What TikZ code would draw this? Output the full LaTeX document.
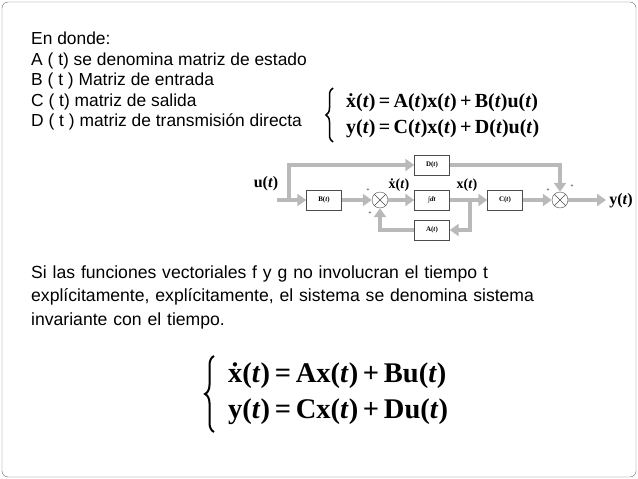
\documentclass[tikz,border=0pt]{standalone}
\usepackage{fontspec}
\setmainfont{Liberation Sans}
\newfontfamily\serifb{Liberation Serif}
\usetikzlibrary{arrows.meta,decorations.pathreplacing}
\newcommand\ti{\textit{t}}
\begin{document}
\begin{tikzpicture}[x=1pt,y=-1pt,
  blk/.style={draw=black!70,fill=white,minimum width=35pt,minimum height=20pt,inner sep=0pt,font=\serifb\bfseries\scriptsize},
  sumn/.style={circle,draw=black!70,fill=white,minimum size=16pt,inner sep=0pt},
  sigA/.style={line width=3.5pt,draw=gray!55,-{Triangle[length=9pt,width=12pt]},color=gray!55},
  txt/.style={anchor=west,font=\fontsize{17.4}{19}\selectfont,inner sep=0pt},
  eqs/.style={anchor=west,inner sep=0pt},
  brc/.style={decorate,decoration={brace,mirror,amplitude=7pt},line width=1.5pt}]
\useasboundingbox (0,0) rectangle (638,479);
\draw[black!60,rounded corners=6pt] (2,2) rectangle (636,477);
\node[txt] (t1) at (31,38) {En donde:};
\node[txt] (t2) at (31,61) {A ( t) se denomina matriz de estado};
\node[txt] (t3) at (31,81) {B ( t ) Matriz de entrada};
\node[txt] (t4) at (31,102) {C ( t) matriz de salida};
\node[txt] (t5) at (31,122) {D ( t ) matriz de transmisión directa};
\coordinate (b1t) at (333,88);
\coordinate (b1b) at (333,142);
\draw[brc] (b1t) -- (b1b);
\node[eqs,font=\serifb\bfseries\fontsize{20}{22}\selectfont] (e1a) at (346,103) {ẋ(\ti)\,=\,A(\ti)x(\ti)\,+\,B(\ti)u(\ti)};
\node[eqs,font=\serifb\bfseries\fontsize{20}{22}\selectfont] (e1b) at (346,129) {y(\ti)\,=\,C(\ti)x(\ti)\,+\,D(\ti)u(\ti)};
% diagram
\node[blk] (D) at (432,165) {D(\ti)};
\node[blk] (B) at (324,200) {B(\ti)};
\node[blk] (I) at (432,200) {∫\textit{dt}};
\node[blk] (C) at (505,200) {C(\ti)};
\node[blk] (A) at (432,230) {A(\ti)};
\node[sumn] (s1) at (380,200) {};
\node[sumn] (s2) at (560,200) {};
\draw[black!70] (s1.45)--(s1.225) (s1.135)--(s1.315);
\draw[black!70] (s2.45)--(s2.225) (s2.135)--(s2.315);
\node[inner sep=0pt,font=\serifb\bfseries\fontsize{16}{18}\selectfont] (u) at (266,184) {u(\ti)};
\node[inner sep=0pt,font=\serifb\bfseries\fontsize{16}{18}\selectfont] (y) at (621,201) {y(\ti)};
\node[inner sep=0pt,font=\serifb\bfseries\fontsize{14}{16}\selectfont] (xd) at (399,185) {ẋ(\ti)};
\node[inner sep=0pt,font=\serifb\bfseries\fontsize{14}{16}\selectfont] (xl) at (467,185) {x(\ti)};
\coordinate (u0) at (277,200);
\coordinate (ub) at (289,200);
\coordinate (xb) at (470,200);
\coordinate (ye) at (606,200);
\draw[sigA] (u0) -- (B.west);
\draw[sigA] (ub) |- (D.west);
\draw[sigA] (B.east) -- (s1.west);
\draw[sigA] (s1.east) -- (I.west);
\draw[sigA] (I.east) -- (C.west);
\draw[sigA] (xb) |- (A.east);
\draw[sigA] (A.west) -| (s1.south);
\draw[sigA] (C.east) -- (s2.west);
\draw[sigA] (D.east) -| (s2.north);
\draw[sigA] (s2.east) -- (ye);
\node[font=\tiny] (p1) at (368,190) {+};
\node[font=\tiny] (p2) at (370,213) {+};
\node[font=\tiny] (p3) at (548,190) {+};
\node[font=\tiny] (p4) at (572,186) {+};
\node[txt,align=left,text width=590pt,font=\fontsize{17.6}{23.5}\selectfont] (p) at (31,297) {Si las funciones vectoriales f y g no involucran el tiempo t\\ explícitamente, explícitamente, el sistema se denomina sistema\\ invariante con el tiempo.};
\coordinate (b2t) at (214,356);
\coordinate (b2b) at (214,432);
\draw[brc,line width=2pt,decoration={amplitude=9pt}] (b2t) -- (b2b);
\node[eqs,font=\serifb\bfseries\fontsize{28.5}{30}\selectfont] (e2a) at (228,376) {ẋ(\ti)\,=\,Ax(\ti)\,+\,Bu(\ti)};
\node[eqs,font=\serifb\bfseries\fontsize{28.5}{30}\selectfont] (e2b) at (228,412) {y(\ti)\,=\,Cx(\ti)\,+\,Du(\ti)};
\end{tikzpicture}
\end{document}
